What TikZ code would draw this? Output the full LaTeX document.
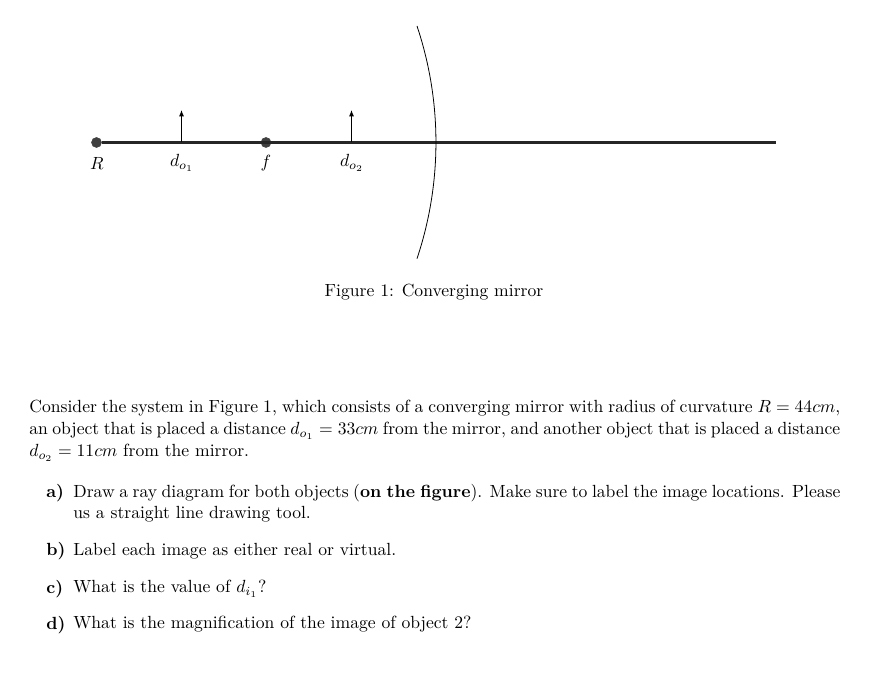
\documentclass[tikz,border=0pt]{standalone}
\usetikzlibrary{arrows.meta}
\tikzset{
  dot/.style={draw=black!75, fill=black!75, circle, inner sep=0pt, minimum size=5.6pt},
  objarrow/.style={draw, line width=0.45pt, -{Latex[length=3.6pt,width=2.8pt]}},
  para/.style={anchor=north west, inner sep=0pt, align=justify, font=\fontsize{10}{12.5}\selectfont},
  itemlabel/.style={anchor=base west, inner sep=0pt, font=\bfseries}
}
\begin{document}
\begin{tikzpicture}[x=0.568pt,y=-0.568pt]
\useasboundingbox (0,0) rectangle (882,687);
\node[dot] (R) at (96.5,142.5) {};
\node[dot] (f) at (266,142.5) {};
\coordinate (axisend) at (776,142.5);
\coordinate (base1) at (181.5,142.5);
\coordinate (tip1) at (181.5,110);
\coordinate (base2) at (351.5,142.5);
\coordinate (tip2) at (351.5,110);
\coordinate (mirrortop) at (417,26);
\path[draw,line width=1.7pt,black!85] (R) -- (axisend);
\path[objarrow] (base1) -- (tip1);
\path[objarrow] (base2) -- (tip2);
\path[draw,line width=0.45pt] (mirrortop) arc[start angle=-18.5, end angle=18.5, radius=366.6];
\node (Rlabel) at (97,163) {$R$};
\node (do1) at (182,163) {$d_{o_1}$};
\node (flabel) at (266,163) {$f$};
\node (do2) at (352,163) {$d_{o_2}$};
\node (caption) at (434,292) {Figure 1: Converging mirror};

\node[para,text width=460.6pt] (intro) at (29,400) {Consider the system in Figure 1, which consists of a converging mirror with radius of curvature $R=44cm$, an object that is placed a distance $d_{o_1}=33cm$ from the mirror, and another object that is placed a distance\linebreak $d_{o_2}=11cm$ from the mirror.};

\node[itemlabel] (labela) at (46,497) {a)};
\node[para,text width=435.7pt,font=\fontsize{10}{12}\selectfont] (parta) at (73,484) {Draw a ray diagram for both objects (\textbf{on the figure}). Make sure to label the image locations. Please\linebreak us a straight line drawing tool.};
\node[itemlabel] (labelb) at (46,556) {b)};
\node[para,text width=435.7pt] (partb) at (73,543) {Label each image as either real or virtual.};
\node[itemlabel] (labelc) at (46,593) {c)};
\node[para,text width=435.7pt] (partc) at (73,580) {What is the value of $d_{i_1}$?};
\node[itemlabel] (labeld) at (46,629) {d)};
\node[para,text width=435.7pt] (partd) at (73,616) {What is the magnification of the image of object 2?};
\end{tikzpicture}
\end{document}
